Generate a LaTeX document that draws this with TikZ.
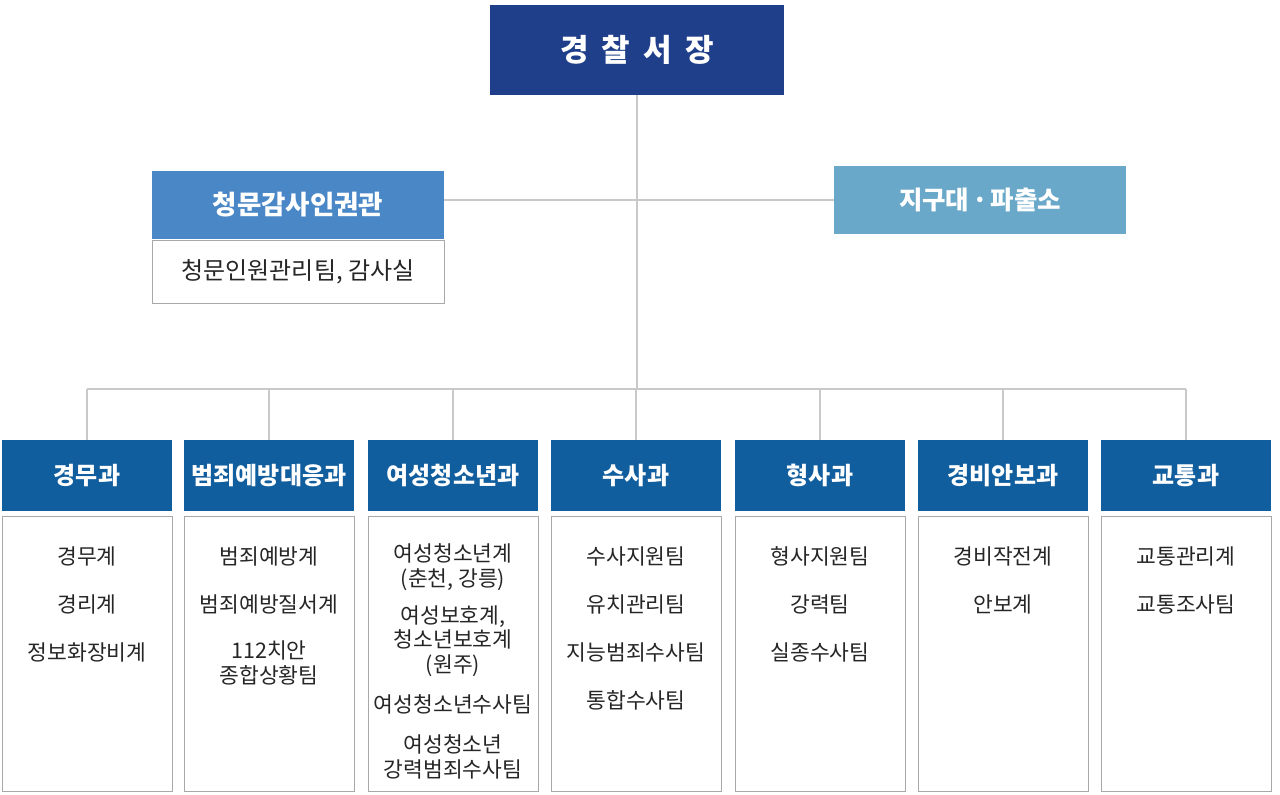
\documentclass[tikz,border=0pt]{standalone}
\usepackage{fontspec}
\setmainfont{Noto Sans CJK KR}
\begin{document}
\begin{tikzpicture}[x=1pt,y=-1pt,
  conn/.style={draw=linegray,line width=1.3pt},
  chief/.style={fill=chiefblue,minimum width=294pt,minimum height=90pt,inner sep=0pt,text=white,font=\fontsize{31}{35}\selectfont\bfseries},
  sidehead/.style={minimum width=292pt,minimum height=68pt,inner sep=0pt,text=white,font=\fontsize{26.5}{30}\selectfont\bfseries},
  dephead/.style={fill=depblue,minimum width=170pt,minimum height=71pt,inner sep=0pt,text=white,font=\fontsize{24}{28}\selectfont\bfseries},
  depbody/.style={draw=boxgray,line width=1pt,fill=white,minimum width=170pt,minimum height=275pt,inner sep=0pt},
  item/.style={font=\fontsize{21.5}{24.5}\selectfont,align=center,text=black!85,inner sep=0pt}
]
\definecolor{chiefblue}{HTML}{1F3F8A}
\definecolor{depblue}{HTML}{115E9F}
\definecolor{audblue}{HTML}{4A87C7}
\definecolor{polblue}{HTML}{69A8C8}
\definecolor{linegray}{HTML}{C9C9C9}
\definecolor{boxgray}{HTML}{A8A8A8}
\useasboundingbox (0,0) rectangle (1280,795);

% top
\node[chief] (chief) at (637,50) {경\hspace{13pt}찰\hspace{13pt}서\hspace{13pt}장};
\coordinate (trunkA) at (637,200);
\coordinate (trunkB) at (637,389);

% side offices
\node[sidehead,fill=audblue] (aud) at (298,205) {청문감사인권관};
\node[draw=boxgray,line width=1pt,fill=white,minimum width=292pt,minimum height=63pt,inner sep=0pt,font=\fontsize{24}{28}\selectfont,text=black!85] (audsub) at (298,272) {청문인원관리팀, 감사실};
\node[sidehead,fill=polblue,font=\fontsize{25.5}{29}\selectfont\bfseries] (pol) at (980,200) {지구대\hspace{-3pt} · \hspace{-3pt}파출소};

\draw[conn] (chief.south) -- (trunkB);
\draw[conn] (aud.east |- trunkA) -- (trunkA) -- (pol.west);

% departments
\foreach \n/\x/\t in {d1/87/경무과, d2/269/범죄예방대응과, d3/453/여성청소년과, d4/636/수사과, d5/820/형사과, d6/1003/경비안보과, d7/1186/교통과}{
  \node[dephead] (\n) at (\x,475.5) {\t};
  \node[depbody] (\n b) at (\x,653.5) {};
  \coordinate (\n top) at (\x,389);
}
\draw[conn] (d1top) -- (d7top);
\foreach \n in {d1,d2,d3,d4,d5,d6,d7}{
  \draw[conn] (\n top) -- (\n.north);
}

% items
\node[item] (i11) at (87,556) {경무계};
\node[item] (i12) at (87,604) {경리계};
\node[item] (i13) at (87,652) {정보화장비계};

\node[item] (i21) at (269,556) {범죄예방계};
\node[item] (i22) at (269,604) {범죄예방질서계};
\node[item] (i23) at (269,663) {112치안\\종합상황팀};

\node[item] (i31) at (453,567) {여성청소년계\\(춘천, 강릉)};
\node[item] (i32) at (453,641) {여성보호계,\\청소년보호계\\(원주)};
\node[item] (i33) at (453,704) {여성청소년수사팀};
\node[item] (i34) at (453,757) {여성청소년\\강력범죄수사팀};

\node[item] (i41) at (636,556) {수사지원팀};
\node[item] (i42) at (636,604) {유치관리팀};
\node[item] (i43) at (636,652) {지능범죄수사팀};
\node[item] (i44) at (636,700) {통합수사팀};

\node[item] (i51) at (820,556) {형사지원팀};
\node[item] (i52) at (820,604) {강력팀};
\node[item] (i53) at (820,652) {실종수사팀};

\node[item] (i61) at (1003,556) {경비작전계};
\node[item] (i62) at (1003,604) {안보계};

\node[item] (i71) at (1186,556) {교통관리계};
\node[item] (i72) at (1186,604) {교통조사팀};
\end{tikzpicture}
\end{document}
